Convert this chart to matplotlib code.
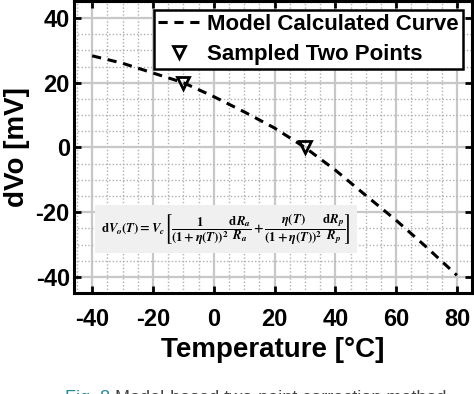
import numpy as np
import matplotlib
matplotlib.use('Agg')
import matplotlib.pyplot as plt
from matplotlib.ticker import MultipleLocator

plt.rcParams['font.family'] = ['Liberation Sans', 'DejaVu Sans']
plt.rcParams['font.weight'] = 'bold'
plt.rcParams['mathtext.fontset'] = 'stix'
plt.rcParams['axes.unicode_minus'] = False

# model curve
temp = [-40, -30, -20, -10, 0, 10, 20, 30, 40, 50, 60, 70, 80]
dvo = [28.3, 26.0, 23.0, 20.0, 15.7, 11.0, 6.0, 0.0, -7.0, -14.8, -22.5, -30.8, -39.5]
# the two sampled points
samp_t = [-10, 30]
samp_v = [20, 0]

fig = plt.figure(figsize=(4.74, 3.94), dpi=100)
ax = fig.add_axes([0.156, 0.256, 0.84, 0.742])

ax.plot(temp, dvo, 'k--', lw=2.2, dashes=(3, 2.2), label='Model Calculated Curve', zorder=3)
ax.plot(samp_t, samp_v, 'v', ms=8, mfc='none', mec='k', mew=2,
        label='Sampled Two Points', zorder=4)

ax.set_xlim(-46, 85)
ax.set_ylim(-45, 45.3)
ax.xaxis.set_major_locator(MultipleLocator(20))
ax.yaxis.set_major_locator(MultipleLocator(20))
ax.xaxis.set_minor_locator(MultipleLocator(5))
ax.yaxis.set_minor_locator(MultipleLocator(5))
ax.grid(which='major', color='#c8c8c8', lw=1.6)
ax.grid(which='minor', color='#b0b0b0', lw=1.0, ls=(0, (1, 1.5)))
ax.tick_params(which='major', direction='in', length=5, width=2,
               top=True, right=True, labelsize=17)
ax.tick_params(axis='x', pad=11)
ax.tick_params(axis='y', pad=3)
ax.tick_params(which='minor', length=0)
for lab in ax.get_xticklabels() + ax.get_yticklabels():
    lab.set_fontweight('bold')
for s in ax.spines.values():
    s.set_linewidth(2.2)

ax.set_xlabel('Temperature [°C]', fontsize=20, fontweight='bold', labelpad=4)
ax.set_ylabel('dVo [mV]', fontsize=20, fontweight='bold', labelpad=4)

leg = ax.legend(loc='upper right', fontsize=16, frameon=True, fancybox=False,
                edgecolor='k', framealpha=1, handlelength=1.9,
                borderpad=0.2, labelspacing=0.4, handletextpad=0.3,
                borderaxespad=0.4)
leg.get_frame().set_linewidth(1.8)
for t in leg.get_texts():
    t.set_fontweight('bold')

formula = (r'$\mathbf{d}\boldsymbol{V_o}(\boldsymbol{T}) = \boldsymbol{V_c}\left['
           r'\dfrac{1}{\left(1+\boldsymbol{\eta}(\boldsymbol{T})\right)^2}'
           r'\dfrac{\mathbf{d}\boldsymbol{R_a}}{\boldsymbol{R_a}} + '
           r'\dfrac{\boldsymbol{\eta}(\boldsymbol{T})}{\left(1+\boldsymbol{\eta}(\boldsymbol{T})\right)^2}'
           r'\dfrac{\mathbf{d}\boldsymbol{R_p}}{\boldsymbol{R_p}}\right]$')
ax.text(4.0, -25.3, formula, fontsize=9.2, ha='center', va='center', zorder=5,
        bbox=dict(boxstyle='square,pad=0.5', fc='#f0f0f0', ec='none'))

fig.text(0.137, 0.010, 'Fig. 8.', color='#2a8a96', fontsize=13, va='top',
         fontweight='normal')
fig.text(0.243, 0.010, 'Model-based two-point correction method.', color='#444444',
         fontsize=13, va='top', fontweight='normal')

fig.savefig('out.png', dpi=100)
